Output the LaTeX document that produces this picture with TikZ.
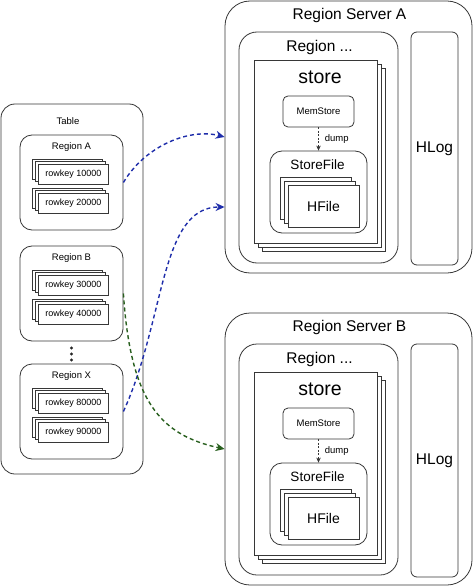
\documentclass[tikz,border=0pt]{standalone}
\usepackage{fontspec}
\setmainfont{Liberation Sans}
\usetikzlibrary{arrows.meta,shadows,calc}

\definecolor{edge}{RGB}{55,55,55}
\definecolor{flowblue}{RGB}{30,45,170}
\definecolor{flowgreen}{RGB}{40,95,30}

\begin{document}
\begin{tikzpicture}[x=1pt,y=-1pt,
    box/.style ={draw=edge, line width=0.8pt, fill=white, inner sep=0pt},
    container/.style ={box, rounded corners=#1},
    rowkey/.style ={box, minimum width=70pt, minimum height=20pt, font=\fontsize{9}{10}\selectfont,
      copy shadow={shadow xshift=-6pt, shadow yshift=5pt},
      copy shadow={shadow xshift=-3pt, shadow yshift=2.5pt}},
    storebox/.style ={box, minimum width=123pt, minimum height=183pt,
      copy shadow={shadow xshift=8pt, shadow yshift=-8pt},
      copy shadow={shadow xshift=4pt, shadow yshift=-4pt}},
    hfile/.style ={box, minimum width=71pt, minimum height=42pt, font=\fontsize{14}{16}\selectfont,
      copy shadow={shadow xshift=-8pt, shadow yshift=8pt},
      copy shadow={shadow xshift=-4pt, shadow yshift=4pt}},
    bigtext/.style ={inner sep=0pt, font=\fontsize{15.5}{18}\selectfont},
    midtext/.style ={inner sep=0pt, font=\fontsize{13.5}{16}\selectfont},
    smalltext/.style ={inner sep=0pt, font=\fontsize{9.5}{11}\selectfont},
    flow/.style ={line width=1.4pt, dash pattern=on 4pt off 3pt, -{Stealth[length=9pt,width=8pt]}},
    dump/.style ={draw=edge, line width=0.7pt, dash pattern=on 2pt off 1.5pt, -{Stealth[length=5pt,width=4.5pt]}}]
  \useasboundingbox (0,0) rectangle (474,588);

  % table with its regions
  \node[container=14pt, minimum width=142pt, minimum height=370pt] (tbl) at (72,289) {};
  \node[smalltext] (tbltitle) at (68,121) {Table};
  \foreach \r/\t/\ka/\kb in {A/135/10000/20000, B/246/30000/40000, X/364/80000/90000}{
    \node[container=12pt, minimum width=103pt, minimum height=95pt] (reg\r) at (71.5,{\t+47.5}) {};
    \node[smalltext] (reg\r-title) at (71.5,{\t+12}) {Region \r};
    \node[rowkey] (key\ka) at (73.5,{\t+39}) {rowkey \ka};
    \node[rowkey] (key\kb) at (73.5,{\t+68}) {rowkey \kb};
  }
  \foreach \y in {348,354,360}
    \fill[black!85] (71.5,\y) circle (1.7pt);

  % region servers
  \foreach \s/\dy in {A/0, B/312}{
    \node[container=25pt, minimum width=247pt, minimum height=272pt] (rs\s) at (348.5,{137+\dy}) {};
    \node[bigtext] (rs\s-title) at (349.5,{15+\dy}) {Region Server \s};
    \node[container=18pt, minimum width=159pt, minimum height=231pt] (rg\s) at (318.5,{147.5+\dy}) {};
    \node[bigtext] (rg\s-title) at (319.5,{47+\dy}) {Region ...};
    \node[storebox] (st\s) at (315.5,{151.5+\dy}) {};
    \node[inner sep=0pt, font=\fontsize{19.5}{22}\selectfont] (st\s-title) at (320,{77+\dy}) {store};
    \node[container=5pt, minimum width=71pt, minimum height=31pt, font=\fontsize{9.5}{11}\selectfont] (ms\s) at (318.5,{111.5+\dy}) {MemStore};
    \node[container=12pt, minimum width=97pt, minimum height=82pt] (sf\s) at (318.5,{192+\dy}) {};
    \node[midtext] (sf\s-title) at (317.5,{165+\dy}) {StoreFile};
    \node[hfile] (hf\s) at (323.5,{206+\dy}) {HFile};
    \node[container=6pt, minimum width=47pt, minimum height=233pt, font=\fontsize{15.5}{18}\selectfont] (hl\s) at (434.5,{148.5+\dy}) {HLog};
    \draw[dump] (ms\s) -- (sf\s) node[smalltext, midway, right=6pt] {dump};
  }

  % regions assigned to servers
  \draw[flow, flowblue] (regA.east) .. controls +(22,-37) and +(-35,-9) .. (rsA.west);
  \draw[flow, flowblue] (regX.east) .. controls +(42,-91.5) and +(-65,0) .. ($(rsA.west)+(0,70)$);
  \draw[flow, flowgreen] (regB.east) .. controls +(7,107) and +(-65,-14) .. (rsB.west);
\end{tikzpicture}
\end{document}
